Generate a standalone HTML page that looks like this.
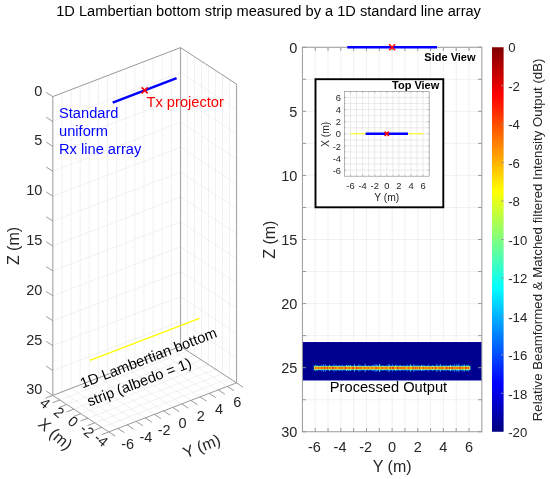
<!DOCTYPE html>
<html><head><meta charset="utf-8"><title>1D Lambertian bottom strip</title>
<style>html,body{margin:0;padding:0;background:#fff}svg{display:block}</style></head>
<body>
<svg width="550" height="479" viewBox="0 0 550 479" font-family='"Liberation Sans", sans-serif'>
<rect width="550" height="479" fill="#ffffff"/>
<line x1="61.92" y1="93.13" x2="61.92" y2="391.91" stroke="#ebebeb" stroke-width="0.7" />
<line x1="61.92" y1="391.91" x2="117.92" y2="428.40" stroke="#ebebeb" stroke-width="0.7" />
<line x1="71.04" y1="89.63" x2="71.04" y2="388.40" stroke="#ebebeb" stroke-width="0.7" />
<line x1="71.04" y1="388.40" x2="127.05" y2="424.90" stroke="#ebebeb" stroke-width="0.7" />
<line x1="80.16" y1="86.13" x2="80.16" y2="384.90" stroke="#ebebeb" stroke-width="0.7" />
<line x1="80.16" y1="384.90" x2="136.17" y2="421.40" stroke="#ebebeb" stroke-width="0.7" />
<line x1="89.29" y1="82.63" x2="89.29" y2="381.40" stroke="#ebebeb" stroke-width="0.7" />
<line x1="89.29" y1="381.40" x2="145.29" y2="417.90" stroke="#ebebeb" stroke-width="0.7" />
<line x1="98.41" y1="79.13" x2="98.41" y2="377.90" stroke="#ebebeb" stroke-width="0.7" />
<line x1="98.41" y1="377.90" x2="154.42" y2="414.40" stroke="#ebebeb" stroke-width="0.7" />
<line x1="107.54" y1="75.62" x2="107.54" y2="374.40" stroke="#ebebeb" stroke-width="0.7" />
<line x1="107.54" y1="374.40" x2="163.54" y2="410.90" stroke="#ebebeb" stroke-width="0.7" />
<line x1="116.66" y1="72.12" x2="116.66" y2="370.90" stroke="#ebebeb" stroke-width="0.7" />
<line x1="116.66" y1="370.90" x2="172.66" y2="407.40" stroke="#ebebeb" stroke-width="0.7" />
<line x1="125.78" y1="68.62" x2="125.78" y2="367.40" stroke="#ebebeb" stroke-width="0.7" />
<line x1="125.78" y1="367.40" x2="181.79" y2="403.90" stroke="#ebebeb" stroke-width="0.7" />
<line x1="134.91" y1="65.12" x2="134.91" y2="363.90" stroke="#ebebeb" stroke-width="0.7" />
<line x1="134.91" y1="363.90" x2="190.91" y2="400.40" stroke="#ebebeb" stroke-width="0.7" />
<line x1="144.03" y1="61.62" x2="144.03" y2="360.40" stroke="#ebebeb" stroke-width="0.7" />
<line x1="144.03" y1="360.40" x2="200.04" y2="396.90" stroke="#ebebeb" stroke-width="0.7" />
<line x1="153.15" y1="58.12" x2="153.15" y2="356.90" stroke="#ebebeb" stroke-width="0.7" />
<line x1="153.15" y1="356.90" x2="209.16" y2="393.40" stroke="#ebebeb" stroke-width="0.7" />
<line x1="162.28" y1="54.62" x2="162.28" y2="353.40" stroke="#ebebeb" stroke-width="0.7" />
<line x1="162.28" y1="353.40" x2="218.28" y2="389.90" stroke="#ebebeb" stroke-width="0.7" />
<line x1="171.40" y1="51.12" x2="171.40" y2="349.90" stroke="#ebebeb" stroke-width="0.7" />
<line x1="171.40" y1="349.90" x2="227.41" y2="386.40" stroke="#ebebeb" stroke-width="0.7" />
<line x1="229.53" y1="79.55" x2="229.53" y2="378.33" stroke="#ebebeb" stroke-width="0.7" />
<line x1="229.53" y1="378.33" x2="101.80" y2="427.34" stroke="#ebebeb" stroke-width="0.7" />
<line x1="222.53" y1="74.99" x2="222.53" y2="373.77" stroke="#ebebeb" stroke-width="0.7" />
<line x1="222.53" y1="373.77" x2="94.80" y2="422.78" stroke="#ebebeb" stroke-width="0.7" />
<line x1="215.53" y1="70.43" x2="215.53" y2="369.21" stroke="#ebebeb" stroke-width="0.7" />
<line x1="215.53" y1="369.21" x2="87.80" y2="418.21" stroke="#ebebeb" stroke-width="0.7" />
<line x1="208.53" y1="65.87" x2="208.53" y2="364.65" stroke="#ebebeb" stroke-width="0.7" />
<line x1="208.53" y1="364.65" x2="80.80" y2="413.65" stroke="#ebebeb" stroke-width="0.7" />
<line x1="201.53" y1="61.31" x2="201.53" y2="360.09" stroke="#ebebeb" stroke-width="0.7" />
<line x1="201.53" y1="360.09" x2="73.80" y2="409.09" stroke="#ebebeb" stroke-width="0.7" />
<line x1="194.53" y1="56.75" x2="194.53" y2="355.52" stroke="#ebebeb" stroke-width="0.7" />
<line x1="194.53" y1="355.52" x2="66.80" y2="404.53" stroke="#ebebeb" stroke-width="0.7" />
<line x1="187.52" y1="52.18" x2="187.52" y2="350.96" stroke="#ebebeb" stroke-width="0.7" />
<line x1="187.52" y1="350.96" x2="59.79" y2="399.97" stroke="#ebebeb" stroke-width="0.7" />
<line x1="52.79" y1="121.53" x2="180.52" y2="72.52" stroke="#ebebeb" stroke-width="0.7" />
<line x1="180.52" y1="72.52" x2="236.53" y2="109.01" stroke="#ebebeb" stroke-width="0.7" />
<line x1="52.79" y1="146.42" x2="180.52" y2="97.42" stroke="#ebebeb" stroke-width="0.7" />
<line x1="180.52" y1="97.42" x2="236.53" y2="133.91" stroke="#ebebeb" stroke-width="0.7" />
<line x1="52.79" y1="171.32" x2="180.52" y2="122.32" stroke="#ebebeb" stroke-width="0.7" />
<line x1="180.52" y1="122.32" x2="236.53" y2="158.81" stroke="#ebebeb" stroke-width="0.7" />
<line x1="52.79" y1="196.22" x2="180.52" y2="147.21" stroke="#ebebeb" stroke-width="0.7" />
<line x1="180.52" y1="147.21" x2="236.53" y2="183.71" stroke="#ebebeb" stroke-width="0.7" />
<line x1="52.79" y1="221.12" x2="180.52" y2="172.11" stroke="#ebebeb" stroke-width="0.7" />
<line x1="180.52" y1="172.11" x2="236.53" y2="208.61" stroke="#ebebeb" stroke-width="0.7" />
<line x1="52.79" y1="246.02" x2="180.52" y2="197.01" stroke="#ebebeb" stroke-width="0.7" />
<line x1="180.52" y1="197.01" x2="236.53" y2="233.51" stroke="#ebebeb" stroke-width="0.7" />
<line x1="52.79" y1="270.91" x2="180.52" y2="221.91" stroke="#ebebeb" stroke-width="0.7" />
<line x1="180.52" y1="221.91" x2="236.53" y2="258.40" stroke="#ebebeb" stroke-width="0.7" />
<line x1="52.79" y1="295.81" x2="180.52" y2="246.81" stroke="#ebebeb" stroke-width="0.7" />
<line x1="180.52" y1="246.81" x2="236.53" y2="283.30" stroke="#ebebeb" stroke-width="0.7" />
<line x1="52.79" y1="320.71" x2="180.52" y2="271.71" stroke="#ebebeb" stroke-width="0.7" />
<line x1="180.52" y1="271.71" x2="236.53" y2="308.20" stroke="#ebebeb" stroke-width="0.7" />
<line x1="52.79" y1="345.61" x2="180.52" y2="296.60" stroke="#ebebeb" stroke-width="0.7" />
<line x1="180.52" y1="296.60" x2="236.53" y2="333.10" stroke="#ebebeb" stroke-width="0.7" />
<line x1="52.79" y1="370.51" x2="180.52" y2="321.50" stroke="#ebebeb" stroke-width="0.7" />
<line x1="180.52" y1="321.50" x2="236.53" y2="358.00" stroke="#ebebeb" stroke-width="0.7" />
<line x1="52.79" y1="96.63" x2="180.52" y2="47.62" stroke="#949494" stroke-width="0.95" />
<line x1="180.52" y1="47.62" x2="236.53" y2="84.12" stroke="#949494" stroke-width="0.95" />
<line x1="180.52" y1="47.62" x2="180.52" y2="346.40" stroke="#a8a8a8" stroke-width="1.15" />
<line x1="236.53" y1="84.12" x2="236.53" y2="382.89" stroke="#a8a8a8" stroke-width="1.15" />
<line x1="52.79" y1="395.41" x2="180.52" y2="346.40" stroke="#949494" stroke-width="0.95" />
<line x1="180.52" y1="346.40" x2="236.53" y2="382.89" stroke="#949494" stroke-width="0.95" />
<line x1="52.79" y1="96.63" x2="52.79" y2="395.41" stroke="#a8a8a8" stroke-width="1.15" />
<line x1="52.79" y1="395.41" x2="108.80" y2="431.90" stroke="#949494" stroke-width="0.95" />
<line x1="108.80" y1="431.90" x2="236.53" y2="382.89" stroke="#949494" stroke-width="0.95" />
<line x1="52.79" y1="96.63" x2="46.26" y2="92.37" stroke="#949494" stroke-width="0.95" />
<text x="42.30" y="95.66" font-size="14.5" fill="#262626" text-anchor="end" font-weight="normal">0</text>
<line x1="52.79" y1="121.53" x2="46.26" y2="117.27" stroke="#949494" stroke-width="0.95" />
<line x1="52.79" y1="146.42" x2="46.26" y2="142.17" stroke="#949494" stroke-width="0.95" />
<text x="42.30" y="145.46" font-size="14.5" fill="#262626" text-anchor="end" font-weight="normal">5</text>
<line x1="52.79" y1="171.32" x2="46.26" y2="167.06" stroke="#949494" stroke-width="0.95" />
<line x1="52.79" y1="196.22" x2="46.26" y2="191.96" stroke="#949494" stroke-width="0.95" />
<text x="42.30" y="195.25" font-size="14.5" fill="#262626" text-anchor="end" font-weight="normal">10</text>
<line x1="52.79" y1="221.12" x2="46.26" y2="216.86" stroke="#949494" stroke-width="0.95" />
<line x1="52.79" y1="246.02" x2="46.26" y2="241.76" stroke="#949494" stroke-width="0.95" />
<text x="42.30" y="245.05" font-size="14.5" fill="#262626" text-anchor="end" font-weight="normal">15</text>
<line x1="52.79" y1="270.91" x2="46.26" y2="266.66" stroke="#949494" stroke-width="0.95" />
<line x1="52.79" y1="295.81" x2="46.26" y2="291.55" stroke="#949494" stroke-width="0.95" />
<text x="42.30" y="294.85" font-size="14.5" fill="#262626" text-anchor="end" font-weight="normal">20</text>
<line x1="52.79" y1="320.71" x2="46.26" y2="316.45" stroke="#949494" stroke-width="0.95" />
<line x1="52.79" y1="345.61" x2="46.26" y2="341.35" stroke="#949494" stroke-width="0.95" />
<text x="42.30" y="344.64" font-size="14.5" fill="#262626" text-anchor="end" font-weight="normal">25</text>
<line x1="52.79" y1="370.51" x2="46.26" y2="366.25" stroke="#949494" stroke-width="0.95" />
<line x1="52.79" y1="395.41" x2="46.26" y2="391.15" stroke="#949494" stroke-width="0.95" />
<text x="42.30" y="394.44" font-size="14.5" fill="#262626" text-anchor="end" font-weight="normal">30</text>
<line x1="108.80" y1="431.90" x2="101.52" y2="434.69" stroke="#949494" stroke-width="0.95" />
<text x="101.30" y="444.79" font-size="14.5" fill="#262626" text-anchor="middle" font-weight="normal" transform="rotate(40.00 101.30 439.60)">-4</text>
<line x1="101.80" y1="427.34" x2="94.52" y2="430.13" stroke="#949494" stroke-width="0.95" />
<line x1="94.80" y1="422.78" x2="87.52" y2="425.57" stroke="#949494" stroke-width="0.95" />
<text x="87.30" y="435.67" font-size="14.5" fill="#262626" text-anchor="middle" font-weight="normal" transform="rotate(40.00 87.30 430.48)">-2</text>
<line x1="87.80" y1="418.21" x2="80.52" y2="421.01" stroke="#949494" stroke-width="0.95" />
<line x1="80.80" y1="413.65" x2="73.51" y2="416.45" stroke="#949494" stroke-width="0.95" />
<text x="73.30" y="426.54" font-size="14.5" fill="#262626" text-anchor="middle" font-weight="normal" transform="rotate(40.00 73.30 421.35)">0</text>
<line x1="73.80" y1="409.09" x2="66.51" y2="411.89" stroke="#949494" stroke-width="0.95" />
<line x1="66.80" y1="404.53" x2="59.51" y2="407.32" stroke="#949494" stroke-width="0.95" />
<text x="59.30" y="417.42" font-size="14.5" fill="#262626" text-anchor="middle" font-weight="normal" transform="rotate(40.00 59.30 412.23)">2</text>
<line x1="59.79" y1="399.97" x2="52.51" y2="402.76" stroke="#949494" stroke-width="0.95" />
<line x1="52.79" y1="395.41" x2="45.51" y2="398.20" stroke="#949494" stroke-width="0.95" />
<text x="45.29" y="408.30" font-size="14.5" fill="#262626" text-anchor="middle" font-weight="normal" transform="rotate(40.00 45.29 403.11)">4</text>
<line x1="108.80" y1="431.90" x2="115.34" y2="436.16" stroke="#949494" stroke-width="0.95" />
<line x1="117.92" y1="428.40" x2="124.46" y2="432.66" stroke="#949494" stroke-width="0.95" />
<text x="127.72" y="448.99" font-size="14.5" fill="#262626" text-anchor="middle" font-weight="normal">-6</text>
<line x1="127.05" y1="424.90" x2="133.58" y2="429.16" stroke="#949494" stroke-width="0.95" />
<line x1="136.17" y1="421.40" x2="142.71" y2="425.66" stroke="#949494" stroke-width="0.95" />
<text x="145.97" y="441.99" font-size="14.5" fill="#262626" text-anchor="middle" font-weight="normal">-4</text>
<line x1="145.29" y1="417.90" x2="151.83" y2="422.16" stroke="#949494" stroke-width="0.95" />
<line x1="154.42" y1="414.40" x2="160.95" y2="418.66" stroke="#949494" stroke-width="0.95" />
<text x="164.22" y="434.99" font-size="14.5" fill="#262626" text-anchor="middle" font-weight="normal">-2</text>
<line x1="163.54" y1="410.90" x2="170.08" y2="415.16" stroke="#949494" stroke-width="0.95" />
<line x1="172.66" y1="407.40" x2="179.20" y2="411.66" stroke="#949494" stroke-width="0.95" />
<text x="182.46" y="427.99" font-size="14.5" fill="#262626" text-anchor="middle" font-weight="normal">0</text>
<line x1="181.79" y1="403.90" x2="188.32" y2="408.16" stroke="#949494" stroke-width="0.95" />
<line x1="190.91" y1="400.40" x2="197.45" y2="404.65" stroke="#949494" stroke-width="0.95" />
<text x="200.71" y="420.99" font-size="14.5" fill="#262626" text-anchor="middle" font-weight="normal">2</text>
<line x1="200.04" y1="396.90" x2="206.57" y2="401.15" stroke="#949494" stroke-width="0.95" />
<line x1="209.16" y1="393.40" x2="215.69" y2="397.65" stroke="#949494" stroke-width="0.95" />
<text x="218.96" y="413.99" font-size="14.5" fill="#262626" text-anchor="middle" font-weight="normal">4</text>
<line x1="218.28" y1="389.90" x2="224.82" y2="394.15" stroke="#949494" stroke-width="0.95" />
<line x1="227.41" y1="386.40" x2="233.94" y2="390.65" stroke="#949494" stroke-width="0.95" />
<text x="237.21" y="406.99" font-size="14.5" fill="#262626" text-anchor="middle" font-weight="normal">6</text>
<line x1="236.53" y1="382.89" x2="243.06" y2="387.15" stroke="#949494" stroke-width="0.95" />
<text x="12.85" y="251.73" font-size="16" fill="#262626" text-anchor="middle" font-weight="normal" transform="rotate(-90.00 12.85 246.00)">Z (m)</text>
<text x="55.40" y="439.53" font-size="16" fill="#262626" text-anchor="middle" font-weight="normal" transform="rotate(41.00 55.40 433.80)">X (m)</text>
<text x="201.60" y="451.73" font-size="16" fill="#262626" text-anchor="middle" font-weight="normal" transform="rotate(-22.00 201.60 446.00)">Y (m)</text>
<line x1="112.73" y1="102.62" x2="176.59" y2="78.12" stroke="#0000ff" stroke-width="2.6" />
<line x1="89.92" y1="360.36" x2="199.40" y2="318.35" stroke="#ffff00" stroke-width="1.4" />
<path d="M141.66 87.37L147.66 93.37M141.66 93.37L147.66 87.37" stroke="#ff0000" stroke-width="1.6" fill="none"/>
<text x="59.00" y="118.00" font-size="14.67" fill="#0000ff" text-anchor="start" font-weight="normal">Standard</text>
<text x="59.00" y="136.00" font-size="14.67" fill="#0000ff" text-anchor="start" font-weight="normal">uniform</text>
<text x="59.00" y="154.00" font-size="14.67" fill="#0000ff" text-anchor="start" font-weight="normal">Rx line array</text>
<text x="146.50" y="106.70" font-size="14.67" fill="#ff0000" text-anchor="start" font-weight="normal">Tx projector</text>
<text x="82.60" y="388.50" font-size="14.67" fill="#000" text-anchor="start" font-weight="normal" transform="rotate(-21.00 82.60 388.50)">1D Lambertian bottom</text>
<text x="89.40" y="406.60" font-size="14.67" fill="#000" text-anchor="start" font-weight="normal" transform="rotate(-21.00 89.40 406.60)">strip (albedo = 1)</text>
<text x="268.60" y="16.20" font-size="14.62" fill="#000" text-anchor="middle" font-weight="normal">1D Lambertian bottom strip measured by a 1D standard line array</text>
<line x1="315.22" y1="47.25" x2="315.22" y2="431.76" stroke="#ebebeb" stroke-width="0.7" />
<line x1="328.03" y1="47.25" x2="328.03" y2="431.76" stroke="#ebebeb" stroke-width="0.7" />
<line x1="340.85" y1="47.25" x2="340.85" y2="431.76" stroke="#ebebeb" stroke-width="0.7" />
<line x1="353.67" y1="47.25" x2="353.67" y2="431.76" stroke="#ebebeb" stroke-width="0.7" />
<line x1="366.49" y1="47.25" x2="366.49" y2="431.76" stroke="#ebebeb" stroke-width="0.7" />
<line x1="379.30" y1="47.25" x2="379.30" y2="431.76" stroke="#ebebeb" stroke-width="0.7" />
<line x1="392.12" y1="47.25" x2="392.12" y2="431.76" stroke="#ebebeb" stroke-width="0.7" />
<line x1="404.94" y1="47.25" x2="404.94" y2="431.76" stroke="#ebebeb" stroke-width="0.7" />
<line x1="417.75" y1="47.25" x2="417.75" y2="431.76" stroke="#ebebeb" stroke-width="0.7" />
<line x1="430.57" y1="47.25" x2="430.57" y2="431.76" stroke="#ebebeb" stroke-width="0.7" />
<line x1="443.39" y1="47.25" x2="443.39" y2="431.76" stroke="#ebebeb" stroke-width="0.7" />
<line x1="456.20" y1="47.25" x2="456.20" y2="431.76" stroke="#ebebeb" stroke-width="0.7" />
<line x1="469.02" y1="47.25" x2="469.02" y2="431.76" stroke="#ebebeb" stroke-width="0.7" />
<line x1="302.40" y1="79.29" x2="481.84" y2="79.29" stroke="#ebebeb" stroke-width="0.7" />
<line x1="302.40" y1="111.34" x2="481.84" y2="111.34" stroke="#ebebeb" stroke-width="0.7" />
<line x1="302.40" y1="143.38" x2="481.84" y2="143.38" stroke="#ebebeb" stroke-width="0.7" />
<line x1="302.40" y1="175.42" x2="481.84" y2="175.42" stroke="#ebebeb" stroke-width="0.7" />
<line x1="302.40" y1="207.46" x2="481.84" y2="207.46" stroke="#ebebeb" stroke-width="0.7" />
<line x1="302.40" y1="239.50" x2="481.84" y2="239.50" stroke="#ebebeb" stroke-width="0.7" />
<line x1="302.40" y1="271.55" x2="481.84" y2="271.55" stroke="#ebebeb" stroke-width="0.7" />
<line x1="302.40" y1="303.59" x2="481.84" y2="303.59" stroke="#ebebeb" stroke-width="0.7" />
<line x1="302.40" y1="335.63" x2="481.84" y2="335.63" stroke="#ebebeb" stroke-width="0.7" />
<line x1="302.40" y1="367.68" x2="481.84" y2="367.68" stroke="#ebebeb" stroke-width="0.7" />
<line x1="302.40" y1="399.72" x2="481.84" y2="399.72" stroke="#ebebeb" stroke-width="0.7" />
<rect x="302.40" y="342.04" width="179.44" height="38.45" fill="#00008f"/>
<defs><filter id="bl" filterUnits="userSpaceOnUse" x="300" y="355" width="190" height="26"><feGaussianBlur stdDeviation="0.75"/></filter><filter id="bs" filterUnits="userSpaceOnUse" x="300" y="355" width="190" height="26"><feGaussianBlur stdDeviation="0.45"/></filter></defs>
<g filter="url(#bl)"><rect x="313.68" y="365.78" width="156.88" height="4.4" fill="#18a8ff"/><rect x="314.7" y="364.88" width="1.0" height="6.2" fill="#28c8ff"/><rect x="316.6" y="365.28" width="0.9" height="5.4" fill="#28c8ff"/><rect x="320.9" y="364.88" width="0.9" height="6.2" fill="#1d8cff"/><rect x="322.8" y="364.18" width="1.0" height="7.6" fill="#1d8cff"/><rect x="324.9" y="364.18" width="0.9" height="7.6" fill="#1d8cff"/><rect x="329.2" y="364.88" width="0.9" height="6.2" fill="#35e0e0"/><rect x="333.5" y="364.18" width="0.9" height="7.6" fill="#1d8cff"/><rect x="335.6" y="364.88" width="0.9" height="6.2" fill="#28c8ff"/><rect x="339.0" y="365.28" width="0.9" height="5.4" fill="#35e0e0"/><rect x="341.6" y="364.88" width="1.2" height="6.2" fill="#1d8cff"/><rect x="345.9" y="364.88" width="1.2" height="6.2" fill="#28c8ff"/><rect x="347.8" y="365.28" width="1.2" height="5.4" fill="#35e0e0"/><rect x="349.7" y="364.88" width="1.2" height="6.2" fill="#28c8ff"/><rect x="354.0" y="364.48" width="1.0" height="7.0" fill="#28c8ff"/><rect x="358.3" y="364.48" width="1.0" height="7.0" fill="#28c8ff"/><rect x="360.4" y="364.88" width="0.9" height="6.2" fill="#1d8cff"/><rect x="364.7" y="364.18" width="1.0" height="7.6" fill="#28c8ff"/><rect x="368.1" y="365.28" width="1.0" height="5.4" fill="#1d8cff"/><rect x="372.4" y="364.88" width="1.0" height="6.2" fill="#28c8ff"/><rect x="374.5" y="364.18" width="1.0" height="7.6" fill="#1d8cff"/><rect x="376.4" y="364.48" width="1.2" height="7.0" fill="#28c8ff"/><rect x="379.0" y="364.18" width="1.2" height="7.6" fill="#35e0e0"/><rect x="382.4" y="365.28" width="0.9" height="5.4" fill="#28c8ff"/><rect x="385.8" y="365.28" width="1.2" height="5.4" fill="#1d8cff"/><rect x="388.4" y="364.18" width="1.2" height="7.6" fill="#28c8ff"/><rect x="391.8" y="364.48" width="1.2" height="7.0" fill="#1d8cff"/><rect x="395.2" y="364.88" width="1.0" height="6.2" fill="#35e0e0"/><rect x="397.1" y="365.28" width="1.0" height="5.4" fill="#1d8cff"/><rect x="399.7" y="364.88" width="0.9" height="6.2" fill="#28c8ff"/><rect x="403.1" y="365.28" width="1.0" height="5.4" fill="#1d8cff"/><rect x="406.5" y="364.48" width="1.0" height="7.0" fill="#1d8cff"/><rect x="409.9" y="364.48" width="1.2" height="7.0" fill="#35e0e0"/><rect x="413.3" y="364.18" width="1.0" height="7.6" fill="#1d8cff"/><rect x="415.4" y="364.88" width="0.9" height="6.2" fill="#1d8cff"/><rect x="417.5" y="364.88" width="1.2" height="6.2" fill="#1d8cff"/><rect x="420.9" y="364.88" width="1.2" height="6.2" fill="#28c8ff"/><rect x="423.5" y="364.88" width="0.9" height="6.2" fill="#28c8ff"/><rect x="427.8" y="364.48" width="1.0" height="7.0" fill="#1d8cff"/><rect x="432.1" y="365.28" width="1.2" height="5.4" fill="#28c8ff"/><rect x="436.4" y="364.18" width="1.0" height="7.6" fill="#28c8ff"/><rect x="439.8" y="364.18" width="0.9" height="7.6" fill="#35e0e0"/><rect x="443.2" y="364.88" width="0.9" height="6.2" fill="#1d8cff"/><rect x="445.3" y="364.88" width="1.0" height="6.2" fill="#1d8cff"/><rect x="447.9" y="365.28" width="1.2" height="5.4" fill="#1d8cff"/><rect x="449.8" y="364.88" width="1.2" height="6.2" fill="#35e0e0"/><rect x="451.7" y="365.28" width="1.0" height="5.4" fill="#1d8cff"/><rect x="453.8" y="364.18" width="1.2" height="7.6" fill="#1d8cff"/><rect x="456.4" y="364.48" width="1.0" height="7.0" fill="#28c8ff"/><rect x="458.3" y="364.18" width="0.9" height="7.6" fill="#28c8ff"/><rect x="461.7" y="364.48" width="1.0" height="7.0" fill="#1d8cff"/><rect x="463.8" y="364.48" width="0.9" height="7.0" fill="#35e0e0"/><rect x="466.4" y="364.88" width="1.0" height="6.2" fill="#35e0e0"/><rect x="468.3" y="364.48" width="0.9" height="7.0" fill="#1d8cff"/></g>
<g filter="url(#bs)"><rect x="314.08" y="366.38" width="156.08" height="3.2" fill="#e4f01c"/><rect x="314.48" y="367.12" width="155.28" height="1.7" fill="#ff9a00"/><rect x="315.1" y="367.08" width="0.8" height="1.8" fill="#f22c00"/><rect x="318.1" y="367.08" width="0.8" height="1.8" fill="#f22c00"/><rect x="321.1" y="367.08" width="1.3" height="1.8" fill="#f22c00"/><rect x="323.9" y="367.08" width="1.3" height="1.8" fill="#f22c00"/><rect x="326.7" y="367.08" width="1.3" height="1.8" fill="#f22c00"/><rect x="329.5" y="367.08" width="1.0" height="1.8" fill="#f22c00"/><rect x="332.0" y="367.08" width="1.8" height="1.8" fill="#f22c00"/><rect x="335.3" y="367.08" width="1.0" height="1.8" fill="#f22c00"/><rect x="339.3" y="367.08" width="1.3" height="1.8" fill="#f22c00"/><rect x="341.7" y="367.08" width="0.8" height="1.8" fill="#f22c00"/><rect x="344.7" y="367.08" width="1.8" height="1.8" fill="#f22c00"/><rect x="348.7" y="367.08" width="1.0" height="1.8" fill="#f22c00"/><rect x="351.9" y="367.08" width="1.8" height="1.8" fill="#f22c00"/><rect x="355.9" y="367.08" width="1.3" height="1.8" fill="#f22c00"/><rect x="358.3" y="367.08" width="1.0" height="1.8" fill="#f22c00"/><rect x="360.4" y="367.08" width="1.0" height="1.8" fill="#f22c00"/><rect x="364.4" y="367.08" width="1.0" height="1.8" fill="#f22c00"/><rect x="367.6" y="367.08" width="1.0" height="1.8" fill="#f22c00"/><rect x="371.6" y="367.08" width="0.8" height="1.8" fill="#f22c00"/><rect x="375.4" y="367.08" width="1.3" height="1.8" fill="#f22c00"/><rect x="377.8" y="367.08" width="0.8" height="1.8" fill="#f22c00"/><rect x="381.6" y="367.08" width="1.0" height="1.8" fill="#f22c00"/><rect x="385.6" y="367.08" width="1.0" height="1.8" fill="#f22c00"/><rect x="389.6" y="367.08" width="1.3" height="1.8" fill="#f22c00"/><rect x="392.0" y="367.08" width="1.8" height="1.8" fill="#f22c00"/><rect x="396.8" y="367.08" width="1.8" height="1.8" fill="#f22c00"/><rect x="399.7" y="367.08" width="1.0" height="1.8" fill="#f22c00"/><rect x="402.2" y="367.08" width="1.0" height="1.8" fill="#f22c00"/><rect x="404.3" y="367.08" width="1.0" height="1.8" fill="#f22c00"/><rect x="408.3" y="367.08" width="1.0" height="1.8" fill="#f22c00"/><rect x="412.3" y="367.08" width="1.3" height="1.8" fill="#f22c00"/><rect x="415.1" y="367.08" width="1.0" height="1.8" fill="#f22c00"/><rect x="417.2" y="367.08" width="0.8" height="1.8" fill="#f22c00"/><rect x="419.1" y="367.08" width="1.0" height="1.8" fill="#f22c00"/><rect x="423.1" y="367.08" width="1.0" height="1.8" fill="#f22c00"/><rect x="425.6" y="367.08" width="0.8" height="1.8" fill="#f22c00"/><rect x="428.6" y="367.08" width="1.0" height="1.8" fill="#f22c00"/><rect x="431.8" y="367.08" width="1.0" height="1.8" fill="#f22c00"/><rect x="435.0" y="367.08" width="1.3" height="1.8" fill="#f22c00"/><rect x="439.3" y="367.08" width="1.0" height="1.8" fill="#f22c00"/><rect x="441.4" y="367.08" width="1.3" height="1.8" fill="#f22c00"/><rect x="445.7" y="367.08" width="1.8" height="1.8" fill="#f22c00"/><rect x="449.0" y="367.08" width="1.0" height="1.8" fill="#f22c00"/><rect x="451.1" y="367.08" width="1.8" height="1.8" fill="#f22c00"/><rect x="454.4" y="367.08" width="0.8" height="1.8" fill="#f22c00"/><rect x="456.7" y="367.08" width="1.0" height="1.8" fill="#f22c00"/><rect x="459.2" y="367.08" width="1.8" height="1.8" fill="#f22c00"/><rect x="462.1" y="367.08" width="0.8" height="1.8" fill="#f22c00"/><rect x="465.1" y="367.08" width="1.8" height="1.8" fill="#f22c00"/><rect x="468.0" y="367.08" width="0.8" height="1.8" fill="#f22c00"/></g>
<rect x="302.40" y="47.25" width="179.44" height="384.51" fill="none" stroke="#949494" stroke-width="0.95"/>
<line x1="315.22" y1="431.76" x2="315.22" y2="428.06" stroke="#949494" stroke-width="0.95" />
<line x1="315.22" y1="47.25" x2="315.22" y2="50.95" stroke="#949494" stroke-width="0.95" />
<text x="314.42" y="451.79" font-size="14.5" fill="#262626" text-anchor="middle" font-weight="normal">-6</text>
<line x1="328.03" y1="431.76" x2="328.03" y2="428.06" stroke="#949494" stroke-width="0.95" />
<line x1="328.03" y1="47.25" x2="328.03" y2="50.95" stroke="#949494" stroke-width="0.95" />
<line x1="340.85" y1="431.76" x2="340.85" y2="428.06" stroke="#949494" stroke-width="0.95" />
<line x1="340.85" y1="47.25" x2="340.85" y2="50.95" stroke="#949494" stroke-width="0.95" />
<text x="340.05" y="451.79" font-size="14.5" fill="#262626" text-anchor="middle" font-weight="normal">-4</text>
<line x1="353.67" y1="431.76" x2="353.67" y2="428.06" stroke="#949494" stroke-width="0.95" />
<line x1="353.67" y1="47.25" x2="353.67" y2="50.95" stroke="#949494" stroke-width="0.95" />
<line x1="366.49" y1="431.76" x2="366.49" y2="428.06" stroke="#949494" stroke-width="0.95" />
<line x1="366.49" y1="47.25" x2="366.49" y2="50.95" stroke="#949494" stroke-width="0.95" />
<text x="365.69" y="451.79" font-size="14.5" fill="#262626" text-anchor="middle" font-weight="normal">-2</text>
<line x1="379.30" y1="431.76" x2="379.30" y2="428.06" stroke="#949494" stroke-width="0.95" />
<line x1="379.30" y1="47.25" x2="379.30" y2="50.95" stroke="#949494" stroke-width="0.95" />
<line x1="392.12" y1="431.76" x2="392.12" y2="428.06" stroke="#949494" stroke-width="0.95" />
<line x1="392.12" y1="47.25" x2="392.12" y2="50.95" stroke="#949494" stroke-width="0.95" />
<text x="392.12" y="451.79" font-size="14.5" fill="#262626" text-anchor="middle" font-weight="normal">0</text>
<line x1="404.94" y1="431.76" x2="404.94" y2="428.06" stroke="#949494" stroke-width="0.95" />
<line x1="404.94" y1="47.25" x2="404.94" y2="50.95" stroke="#949494" stroke-width="0.95" />
<line x1="417.75" y1="431.76" x2="417.75" y2="428.06" stroke="#949494" stroke-width="0.95" />
<line x1="417.75" y1="47.25" x2="417.75" y2="50.95" stroke="#949494" stroke-width="0.95" />
<text x="417.75" y="451.79" font-size="14.5" fill="#262626" text-anchor="middle" font-weight="normal">2</text>
<line x1="430.57" y1="431.76" x2="430.57" y2="428.06" stroke="#949494" stroke-width="0.95" />
<line x1="430.57" y1="47.25" x2="430.57" y2="50.95" stroke="#949494" stroke-width="0.95" />
<line x1="443.39" y1="431.76" x2="443.39" y2="428.06" stroke="#949494" stroke-width="0.95" />
<line x1="443.39" y1="47.25" x2="443.39" y2="50.95" stroke="#949494" stroke-width="0.95" />
<text x="443.39" y="451.79" font-size="14.5" fill="#262626" text-anchor="middle" font-weight="normal">4</text>
<line x1="456.20" y1="431.76" x2="456.20" y2="428.06" stroke="#949494" stroke-width="0.95" />
<line x1="456.20" y1="47.25" x2="456.20" y2="50.95" stroke="#949494" stroke-width="0.95" />
<line x1="469.02" y1="431.76" x2="469.02" y2="428.06" stroke="#949494" stroke-width="0.95" />
<line x1="469.02" y1="47.25" x2="469.02" y2="50.95" stroke="#949494" stroke-width="0.95" />
<text x="469.02" y="451.79" font-size="14.5" fill="#262626" text-anchor="middle" font-weight="normal">6</text>
<line x1="302.40" y1="47.25" x2="306.10" y2="47.25" stroke="#949494" stroke-width="0.95" />
<line x1="481.84" y1="47.25" x2="478.14" y2="47.25" stroke="#949494" stroke-width="0.95" />
<text x="297.30" y="52.74" font-size="14.5" fill="#262626" text-anchor="end" font-weight="normal">0</text>
<line x1="302.40" y1="79.29" x2="306.10" y2="79.29" stroke="#949494" stroke-width="0.95" />
<line x1="481.84" y1="79.29" x2="478.14" y2="79.29" stroke="#949494" stroke-width="0.95" />
<line x1="302.40" y1="111.34" x2="306.10" y2="111.34" stroke="#949494" stroke-width="0.95" />
<line x1="481.84" y1="111.34" x2="478.14" y2="111.34" stroke="#949494" stroke-width="0.95" />
<text x="297.30" y="116.83" font-size="14.5" fill="#262626" text-anchor="end" font-weight="normal">5</text>
<line x1="302.40" y1="143.38" x2="306.10" y2="143.38" stroke="#949494" stroke-width="0.95" />
<line x1="481.84" y1="143.38" x2="478.14" y2="143.38" stroke="#949494" stroke-width="0.95" />
<line x1="302.40" y1="175.42" x2="306.10" y2="175.42" stroke="#949494" stroke-width="0.95" />
<line x1="481.84" y1="175.42" x2="478.14" y2="175.42" stroke="#949494" stroke-width="0.95" />
<text x="297.30" y="180.91" font-size="14.5" fill="#262626" text-anchor="end" font-weight="normal">10</text>
<line x1="302.40" y1="207.46" x2="306.10" y2="207.46" stroke="#949494" stroke-width="0.95" />
<line x1="481.84" y1="207.46" x2="478.14" y2="207.46" stroke="#949494" stroke-width="0.95" />
<line x1="302.40" y1="239.50" x2="306.10" y2="239.50" stroke="#949494" stroke-width="0.95" />
<line x1="481.84" y1="239.50" x2="478.14" y2="239.50" stroke="#949494" stroke-width="0.95" />
<text x="297.30" y="245.00" font-size="14.5" fill="#262626" text-anchor="end" font-weight="normal">15</text>
<line x1="302.40" y1="271.55" x2="306.10" y2="271.55" stroke="#949494" stroke-width="0.95" />
<line x1="481.84" y1="271.55" x2="478.14" y2="271.55" stroke="#949494" stroke-width="0.95" />
<line x1="302.40" y1="303.59" x2="306.10" y2="303.59" stroke="#949494" stroke-width="0.95" />
<line x1="481.84" y1="303.59" x2="478.14" y2="303.59" stroke="#949494" stroke-width="0.95" />
<text x="297.30" y="309.08" font-size="14.5" fill="#262626" text-anchor="end" font-weight="normal">20</text>
<line x1="302.40" y1="335.63" x2="306.10" y2="335.63" stroke="#949494" stroke-width="0.95" />
<line x1="481.84" y1="335.63" x2="478.14" y2="335.63" stroke="#949494" stroke-width="0.95" />
<line x1="302.40" y1="367.68" x2="306.10" y2="367.68" stroke="#949494" stroke-width="0.95" />
<line x1="481.84" y1="367.68" x2="478.14" y2="367.68" stroke="#949494" stroke-width="0.95" />
<text x="297.30" y="373.17" font-size="14.5" fill="#262626" text-anchor="end" font-weight="normal">25</text>
<line x1="302.40" y1="399.72" x2="306.10" y2="399.72" stroke="#949494" stroke-width="0.95" />
<line x1="481.84" y1="399.72" x2="478.14" y2="399.72" stroke="#949494" stroke-width="0.95" />
<line x1="302.40" y1="431.76" x2="306.10" y2="431.76" stroke="#949494" stroke-width="0.95" />
<line x1="481.84" y1="431.76" x2="478.14" y2="431.76" stroke="#949494" stroke-width="0.95" />
<text x="297.30" y="437.25" font-size="14.5" fill="#262626" text-anchor="end" font-weight="normal">30</text>
<text x="392.20" y="471.83" font-size="16" fill="#262626" text-anchor="middle" font-weight="normal">Y (m)</text>
<text x="269.40" y="245.43" font-size="16" fill="#262626" text-anchor="middle" font-weight="normal" transform="rotate(-90.00 269.40 239.70)">Z (m)</text>
<line x1="347.26" y1="47.25" x2="436.98" y2="47.25" stroke="#0000ff" stroke-width="2.3" />
<path d="M389.12 44.25L395.12 50.25M389.12 50.25L395.12 44.25" stroke="#ff0000" stroke-width="1.6" fill="none"/>
<text x="475.50" y="61.30" font-size="11" fill="#000" text-anchor="end" font-weight="bold">Side View</text>
<text x="388.50" y="392.40" font-size="14.67" fill="#000" text-anchor="middle" font-weight="normal">Processed Output</text>
<rect x="315.5" y="79.2" width="127.8" height="128.1" fill="#fff" stroke="#000" stroke-width="1.9"/>
<line x1="350.46" y1="176.20" x2="350.46" y2="91.40" stroke="#dedede" stroke-width="0.6" />
<line x1="344.40" y1="170.14" x2="429.20" y2="170.14" stroke="#dedede" stroke-width="0.6" />
<line x1="356.51" y1="176.20" x2="356.51" y2="91.40" stroke="#dedede" stroke-width="0.6" />
<line x1="344.40" y1="164.09" x2="429.20" y2="164.09" stroke="#dedede" stroke-width="0.6" />
<line x1="362.57" y1="176.20" x2="362.57" y2="91.40" stroke="#dedede" stroke-width="0.6" />
<line x1="344.40" y1="158.03" x2="429.20" y2="158.03" stroke="#dedede" stroke-width="0.6" />
<line x1="368.63" y1="176.20" x2="368.63" y2="91.40" stroke="#dedede" stroke-width="0.6" />
<line x1="344.40" y1="151.97" x2="429.20" y2="151.97" stroke="#dedede" stroke-width="0.6" />
<line x1="374.69" y1="176.20" x2="374.69" y2="91.40" stroke="#dedede" stroke-width="0.6" />
<line x1="344.40" y1="145.91" x2="429.20" y2="145.91" stroke="#dedede" stroke-width="0.6" />
<line x1="380.74" y1="176.20" x2="380.74" y2="91.40" stroke="#dedede" stroke-width="0.6" />
<line x1="344.40" y1="139.86" x2="429.20" y2="139.86" stroke="#dedede" stroke-width="0.6" />
<line x1="386.80" y1="176.20" x2="386.80" y2="91.40" stroke="#dedede" stroke-width="0.6" />
<line x1="344.40" y1="133.80" x2="429.20" y2="133.80" stroke="#dedede" stroke-width="0.6" />
<line x1="392.86" y1="176.20" x2="392.86" y2="91.40" stroke="#dedede" stroke-width="0.6" />
<line x1="344.40" y1="127.74" x2="429.20" y2="127.74" stroke="#dedede" stroke-width="0.6" />
<line x1="398.91" y1="176.20" x2="398.91" y2="91.40" stroke="#dedede" stroke-width="0.6" />
<line x1="344.40" y1="121.69" x2="429.20" y2="121.69" stroke="#dedede" stroke-width="0.6" />
<line x1="404.97" y1="176.20" x2="404.97" y2="91.40" stroke="#dedede" stroke-width="0.6" />
<line x1="344.40" y1="115.63" x2="429.20" y2="115.63" stroke="#dedede" stroke-width="0.6" />
<line x1="411.03" y1="176.20" x2="411.03" y2="91.40" stroke="#dedede" stroke-width="0.6" />
<line x1="344.40" y1="109.57" x2="429.20" y2="109.57" stroke="#dedede" stroke-width="0.6" />
<line x1="417.09" y1="176.20" x2="417.09" y2="91.40" stroke="#dedede" stroke-width="0.6" />
<line x1="344.40" y1="103.51" x2="429.20" y2="103.51" stroke="#dedede" stroke-width="0.6" />
<line x1="423.14" y1="176.20" x2="423.14" y2="91.40" stroke="#dedede" stroke-width="0.6" />
<line x1="344.40" y1="97.46" x2="429.20" y2="97.46" stroke="#dedede" stroke-width="0.6" />
<rect x="344.4" y="91.4" width="84.8" height="84.8" fill="none" stroke="#949494" stroke-width="0.7"/>
<line x1="350.46" y1="176.20" x2="350.46" y2="174.60" stroke="#949494" stroke-width="0.6" />
<line x1="350.46" y1="91.40" x2="350.46" y2="93.00" stroke="#949494" stroke-width="0.6" />
<line x1="344.40" y1="170.14" x2="346.00" y2="170.14" stroke="#949494" stroke-width="0.6" />
<line x1="429.20" y1="170.14" x2="427.60" y2="170.14" stroke="#949494" stroke-width="0.6" />
<text x="350.46" y="189.44" font-size="9.33" fill="#262626" text-anchor="middle" font-weight="normal">-6</text>
<text x="341.00" y="173.78" font-size="9.33" fill="#262626" text-anchor="end" font-weight="normal">-6</text>
<line x1="356.51" y1="176.20" x2="356.51" y2="175.30" stroke="#949494" stroke-width="0.6" />
<line x1="356.51" y1="91.40" x2="356.51" y2="92.30" stroke="#949494" stroke-width="0.6" />
<line x1="344.40" y1="164.09" x2="345.30" y2="164.09" stroke="#949494" stroke-width="0.6" />
<line x1="429.20" y1="164.09" x2="428.30" y2="164.09" stroke="#949494" stroke-width="0.6" />
<line x1="362.57" y1="176.20" x2="362.57" y2="174.60" stroke="#949494" stroke-width="0.6" />
<line x1="362.57" y1="91.40" x2="362.57" y2="93.00" stroke="#949494" stroke-width="0.6" />
<line x1="344.40" y1="158.03" x2="346.00" y2="158.03" stroke="#949494" stroke-width="0.6" />
<line x1="429.20" y1="158.03" x2="427.60" y2="158.03" stroke="#949494" stroke-width="0.6" />
<text x="362.57" y="189.44" font-size="9.33" fill="#262626" text-anchor="middle" font-weight="normal">-4</text>
<text x="341.00" y="161.67" font-size="9.33" fill="#262626" text-anchor="end" font-weight="normal">-4</text>
<line x1="368.63" y1="176.20" x2="368.63" y2="175.30" stroke="#949494" stroke-width="0.6" />
<line x1="368.63" y1="91.40" x2="368.63" y2="92.30" stroke="#949494" stroke-width="0.6" />
<line x1="344.40" y1="151.97" x2="345.30" y2="151.97" stroke="#949494" stroke-width="0.6" />
<line x1="429.20" y1="151.97" x2="428.30" y2="151.97" stroke="#949494" stroke-width="0.6" />
<line x1="374.69" y1="176.20" x2="374.69" y2="174.60" stroke="#949494" stroke-width="0.6" />
<line x1="374.69" y1="91.40" x2="374.69" y2="93.00" stroke="#949494" stroke-width="0.6" />
<line x1="344.40" y1="145.91" x2="346.00" y2="145.91" stroke="#949494" stroke-width="0.6" />
<line x1="429.20" y1="145.91" x2="427.60" y2="145.91" stroke="#949494" stroke-width="0.6" />
<text x="374.69" y="189.44" font-size="9.33" fill="#262626" text-anchor="middle" font-weight="normal">-2</text>
<text x="341.00" y="149.55" font-size="9.33" fill="#262626" text-anchor="end" font-weight="normal">-2</text>
<line x1="380.74" y1="176.20" x2="380.74" y2="175.30" stroke="#949494" stroke-width="0.6" />
<line x1="380.74" y1="91.40" x2="380.74" y2="92.30" stroke="#949494" stroke-width="0.6" />
<line x1="344.40" y1="139.86" x2="345.30" y2="139.86" stroke="#949494" stroke-width="0.6" />
<line x1="429.20" y1="139.86" x2="428.30" y2="139.86" stroke="#949494" stroke-width="0.6" />
<line x1="386.80" y1="176.20" x2="386.80" y2="174.60" stroke="#949494" stroke-width="0.6" />
<line x1="386.80" y1="91.40" x2="386.80" y2="93.00" stroke="#949494" stroke-width="0.6" />
<line x1="344.40" y1="133.80" x2="346.00" y2="133.80" stroke="#949494" stroke-width="0.6" />
<line x1="429.20" y1="133.80" x2="427.60" y2="133.80" stroke="#949494" stroke-width="0.6" />
<text x="386.80" y="189.44" font-size="9.33" fill="#262626" text-anchor="middle" font-weight="normal">0</text>
<text x="341.00" y="137.44" font-size="9.33" fill="#262626" text-anchor="end" font-weight="normal">0</text>
<line x1="392.86" y1="176.20" x2="392.86" y2="175.30" stroke="#949494" stroke-width="0.6" />
<line x1="392.86" y1="91.40" x2="392.86" y2="92.30" stroke="#949494" stroke-width="0.6" />
<line x1="344.40" y1="127.74" x2="345.30" y2="127.74" stroke="#949494" stroke-width="0.6" />
<line x1="429.20" y1="127.74" x2="428.30" y2="127.74" stroke="#949494" stroke-width="0.6" />
<line x1="398.91" y1="176.20" x2="398.91" y2="174.60" stroke="#949494" stroke-width="0.6" />
<line x1="398.91" y1="91.40" x2="398.91" y2="93.00" stroke="#949494" stroke-width="0.6" />
<line x1="344.40" y1="121.69" x2="346.00" y2="121.69" stroke="#949494" stroke-width="0.6" />
<line x1="429.20" y1="121.69" x2="427.60" y2="121.69" stroke="#949494" stroke-width="0.6" />
<text x="398.91" y="189.44" font-size="9.33" fill="#262626" text-anchor="middle" font-weight="normal">2</text>
<text x="341.00" y="125.33" font-size="9.33" fill="#262626" text-anchor="end" font-weight="normal">2</text>
<line x1="404.97" y1="176.20" x2="404.97" y2="175.30" stroke="#949494" stroke-width="0.6" />
<line x1="404.97" y1="91.40" x2="404.97" y2="92.30" stroke="#949494" stroke-width="0.6" />
<line x1="344.40" y1="115.63" x2="345.30" y2="115.63" stroke="#949494" stroke-width="0.6" />
<line x1="429.20" y1="115.63" x2="428.30" y2="115.63" stroke="#949494" stroke-width="0.6" />
<line x1="411.03" y1="176.20" x2="411.03" y2="174.60" stroke="#949494" stroke-width="0.6" />
<line x1="411.03" y1="91.40" x2="411.03" y2="93.00" stroke="#949494" stroke-width="0.6" />
<line x1="344.40" y1="109.57" x2="346.00" y2="109.57" stroke="#949494" stroke-width="0.6" />
<line x1="429.20" y1="109.57" x2="427.60" y2="109.57" stroke="#949494" stroke-width="0.6" />
<text x="411.03" y="189.44" font-size="9.33" fill="#262626" text-anchor="middle" font-weight="normal">4</text>
<text x="341.00" y="113.21" font-size="9.33" fill="#262626" text-anchor="end" font-weight="normal">4</text>
<line x1="417.09" y1="176.20" x2="417.09" y2="175.30" stroke="#949494" stroke-width="0.6" />
<line x1="417.09" y1="91.40" x2="417.09" y2="92.30" stroke="#949494" stroke-width="0.6" />
<line x1="344.40" y1="103.51" x2="345.30" y2="103.51" stroke="#949494" stroke-width="0.6" />
<line x1="429.20" y1="103.51" x2="428.30" y2="103.51" stroke="#949494" stroke-width="0.6" />
<line x1="423.14" y1="176.20" x2="423.14" y2="174.60" stroke="#949494" stroke-width="0.6" />
<line x1="423.14" y1="91.40" x2="423.14" y2="93.00" stroke="#949494" stroke-width="0.6" />
<line x1="344.40" y1="97.46" x2="346.00" y2="97.46" stroke="#949494" stroke-width="0.6" />
<line x1="429.20" y1="97.46" x2="427.60" y2="97.46" stroke="#949494" stroke-width="0.6" />
<text x="423.14" y="189.44" font-size="9.33" fill="#262626" text-anchor="middle" font-weight="normal">6</text>
<text x="341.00" y="101.10" font-size="9.33" fill="#262626" text-anchor="end" font-weight="normal">6</text>
<text x="386.80" y="201.49" font-size="10.3" fill="#262626" text-anchor="middle" font-weight="normal">Y (m)</text>
<text x="325.00" y="137.99" font-size="10.3" fill="#262626" text-anchor="middle" font-weight="normal" transform="rotate(-90.00 325.00 134.30)">X (m)</text>
<text x="439.30" y="88.80" font-size="11" fill="#000" text-anchor="end" font-weight="bold">Top View</text>
<line x1="350.46" y1="133.80" x2="423.14" y2="133.80" stroke="#ffff00" stroke-width="1.1" />
<line x1="365.60" y1="133.80" x2="408.00" y2="133.80" stroke="#0000ff" stroke-width="2.4" />
<path d="M384.60 131.60L389.00 136.00M384.60 136.00L389.00 131.60" stroke="#ff0000" stroke-width="1.6" fill="none"/>
<defs><linearGradient id="jet" x1="0" y1="0" x2="0" y2="1"><stop offset="0" stop-color="#800000"/><stop offset="0.125" stop-color="#ff0000"/><stop offset="0.375" stop-color="#ffff00"/><stop offset="0.625" stop-color="#00ffff"/><stop offset="0.875" stop-color="#0000ff"/><stop offset="1" stop-color="#000080"/></linearGradient></defs>
<rect x="492" y="47.25" width="11.60" height="384.51" fill="url(#jet)"/>
<text x="508.20" y="52.48" font-size="13.2" fill="#262626" text-anchor="start" font-weight="normal">0</text>
<line x1="501.10" y1="85.70" x2="503.60" y2="85.70" stroke="#949494" stroke-width="0.95" />
<text x="508.20" y="90.93" font-size="13.2" fill="#262626" text-anchor="start" font-weight="normal">-2</text>
<line x1="501.10" y1="124.15" x2="503.60" y2="124.15" stroke="#949494" stroke-width="0.95" />
<text x="508.20" y="129.38" font-size="13.2" fill="#262626" text-anchor="start" font-weight="normal">-4</text>
<line x1="501.10" y1="162.60" x2="503.60" y2="162.60" stroke="#949494" stroke-width="0.95" />
<text x="508.20" y="167.83" font-size="13.2" fill="#262626" text-anchor="start" font-weight="normal">-6</text>
<line x1="501.10" y1="201.05" x2="503.60" y2="201.05" stroke="#949494" stroke-width="0.95" />
<text x="508.20" y="206.28" font-size="13.2" fill="#262626" text-anchor="start" font-weight="normal">-8</text>
<line x1="501.10" y1="239.50" x2="503.60" y2="239.50" stroke="#949494" stroke-width="0.95" />
<text x="508.20" y="244.73" font-size="13.2" fill="#262626" text-anchor="start" font-weight="normal">-10</text>
<line x1="501.10" y1="277.96" x2="503.60" y2="277.96" stroke="#949494" stroke-width="0.95" />
<text x="508.20" y="283.18" font-size="13.2" fill="#262626" text-anchor="start" font-weight="normal">-12</text>
<line x1="501.10" y1="316.41" x2="503.60" y2="316.41" stroke="#949494" stroke-width="0.95" />
<text x="508.20" y="321.63" font-size="13.2" fill="#262626" text-anchor="start" font-weight="normal">-14</text>
<line x1="501.10" y1="354.86" x2="503.60" y2="354.86" stroke="#949494" stroke-width="0.95" />
<text x="508.20" y="360.08" font-size="13.2" fill="#262626" text-anchor="start" font-weight="normal">-16</text>
<line x1="501.10" y1="393.31" x2="503.60" y2="393.31" stroke="#949494" stroke-width="0.95" />
<text x="508.20" y="398.53" font-size="13.2" fill="#262626" text-anchor="start" font-weight="normal">-18</text>
<text x="508.20" y="436.99" font-size="13.2" fill="#262626" text-anchor="start" font-weight="normal">-20</text>
<text x="542.30" y="239.90" font-size="13.24" fill="#262626" text-anchor="middle" font-weight="normal" transform="rotate(-90.00 542.30 239.90)">Relative Beamformed &amp; Matched filtered Intensity Output (dB)</text>
</svg>
</body></html>
